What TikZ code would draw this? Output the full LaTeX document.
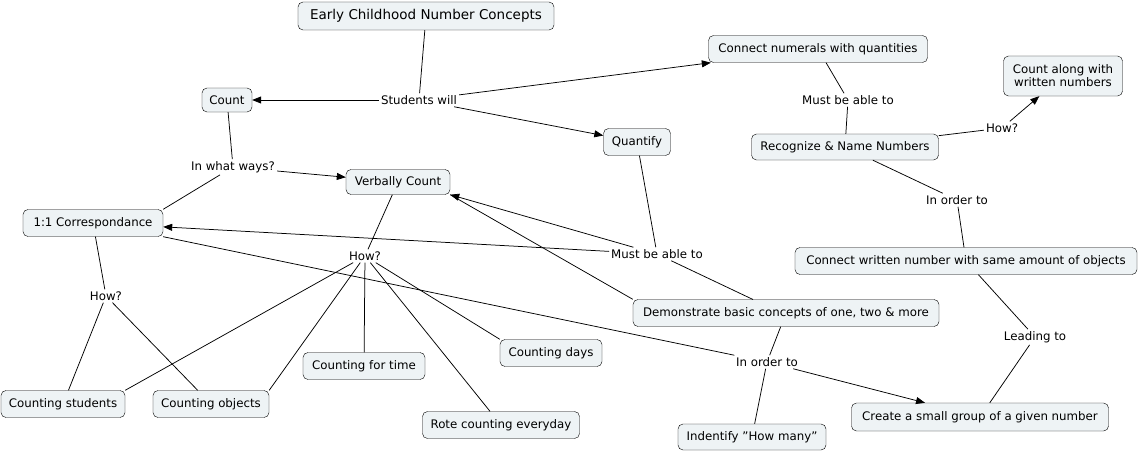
\documentclass[tikz,border=0pt]{standalone}
\usepackage{fontspec}
\setmainfont{DejaVu Sans}
\usetikzlibrary{arrows.meta}
\begin{document}
\begin{tikzpicture}[x=1pt,y=-1pt,
  box/.style={draw=black,fill={rgb,255:red,238;green,243;blue,245},rounded corners=5pt,font=\fontsize{11.8}{14}\selectfont,inner xsep=2pt,minimum height=27pt,align=center},
  lab/.style={font=\fontsize{11.8}{14}\selectfont,inner sep=2pt},
  ln/.style={draw=black,line width=0.75pt},
  ar/.style={ln,-{Triangle[length=9pt,width=7pt]}}]
\useasboundingbox (0,0) rectangle (1140,452);
\fill[white] (0,0) rectangle (1140,452);
\node[box,font=\fontsize{13.5}{15}\selectfont,minimum width=256pt,minimum height=28pt] (early) at (426,16) {Early Childhood Number Concepts};
\node[box,minimum width=219pt] (cnq) at (818,49) {Connect numerals with quantities};
\node[box,minimum width=119pt,minimum height=40pt,font=\fontsize{11.8}{13}\selectfont] (cal) at (1063,76) {Count along with\\ written numbers};
\node[box,minimum width=50pt,minimum height=24pt] (count) at (227,100) {Count};
\node[box,minimum width=67pt] (quant) at (637,142) {Quantify};
\node[box,minimum width=187pt,minimum height=26pt] (rec) at (845,147) {Recognize \& Name Numbers};
\node[box,minimum width=104pt,minimum height=25pt] (verb) at (398,182) {Verbally Count};
\node[box,minimum width=140pt] (one) at (93,223) {1:1 Correspondance};
\node[box,minimum width=342pt] (cwn) at (966,261) {Connect written number with same amount of objects};
\node[box,minimum width=306pt] (demo) at (786,313) {Demonstrate basic concepts of one, two \& more};
\node[box,minimum width=102pt] (days) at (551,353) {Counting days};
\node[box,minimum width=122pt] (time) at (364,366) {Counting for time};
\node[box,minimum width=124pt] (stud) at (63,404) {Counting students};
\node[box,minimum width=116pt] (obj) at (211,404) {Counting objects};
\node[box,minimum width=257pt,minimum height=28pt] (small) at (980,417) {Create a small group of a given number};
\node[box,minimum width=157pt] (rote) at (501,425) {Rote counting everyday};
\node[box,minimum width=148pt,minimum height=26pt] (ident) at (752,437) {Indentify "How many"};

\node[lab] (sw) at (419,100) {Students will};
\node[lab] (mb1) at (848,100) {Must be able to};
\node[lab] (how1) at (1002,128) {How?};
\node[lab] (ways) at (233,167) {In what ways?};
\node[lab] (iot1) at (957,200) {In order to};
\node[lab] (how2) at (365,256) {How?};
\node[lab] (mb2) at (657,254) {Must be able to};
\node[lab] (how3) at (106,296) {How?};
\node[lab] (lead) at (1035,337) {Leading to};
\node[lab] (iot2) at (767,362) {In order to};
\coordinate (demotop) at (753,299.5);

\draw[ln] (early) -- (sw);
\draw[ar] (sw) -- (count);
\draw[ar] (sw) -- (cnq);
\draw[ar] (sw) -- (quant);
\draw[ln] (cnq) -- (mb1); \draw[ln] (mb1) -- (rec);
\draw[ln] (rec) -- (how1); \draw[ar] (how1) -- (cal);
\draw[ln] (rec) -- (iot1); \draw[ln] (iot1) -- (cwn);
\draw[ln] (cwn) -- (lead); \draw[ln] (lead) -- (small);
\draw[ln] (count) -- (ways); \draw[ln] (ways) -- (one.north east); \draw[ar] (ways) -- (verb);
\draw[ln] (quant) -- (mb2);
\draw[ar] (mb2) -- (verb.south east);
\draw[ar] (mb2) -- (one);
\draw[ln] (mb2) -- (demotop);
\draw[ln] (verb.south east) -- (demo.north west);
\draw[ln] (verb) -- (how2);
\draw[ln] (how2) -- (stud.north east);
\draw[ln] (how2) -- (obj.north east);
\draw[ln] (how2) -- (time);
\draw[ln] (how2) -- (rote);
\draw[ln] (how2) -- (days.north west);
\draw[ln] (one) -- (how3);
\draw[ln] (how3) -- (stud);
\draw[ln] (how3) -- (obj);
\draw[ln] (one.south east) -- (iot2);
\draw[ln] (demo) -- (iot2);
\draw[ar] (iot2) -- (small);
\draw[ln] (iot2) -- (ident);
\end{tikzpicture}
\end{document}
